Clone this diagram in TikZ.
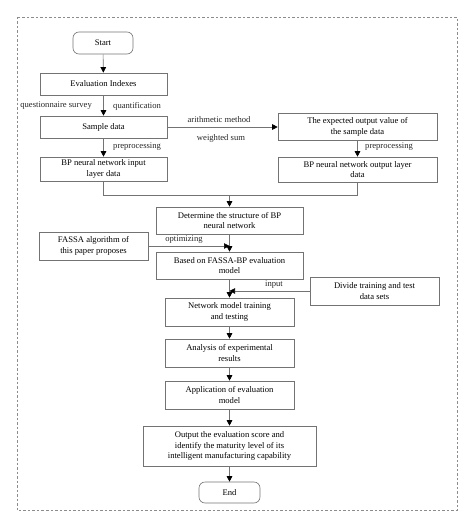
\documentclass[tikz,border=0pt]{standalone}
\usepackage{fontspec}
\setmainfont{Liberation Serif}
\usetikzlibrary{arrows.meta,positioning}
\begin{document}
\begin{tikzpicture}[x=1pt,y=-1pt,
  font=\fontsize{8.6}{10.5}\selectfont,
  box/.style={draw=black!55, line width=0.6pt, align=center, inner sep=1pt},
  term/.style={box, rounded corners=6pt},
  conn/.style={draw=black!55, line width=0.6pt, -{Triangle[length=5.5pt,width=5.5pt,color=black,fill=black]}},
  plain/.style={draw=black!55, line width=0.6pt},
  lbl/.style={inner sep=1pt, text=black!85}
]
\useasboundingbox (0,0) rectangle (474,527);
\draw[black!45, line width=0.6pt, dash pattern=on 2.5pt off 2pt] (17,17) rectangle (457,510);

\node[term, minimum width=60pt, minimum height=22pt] (start) at (103,43) {Start};
\node[box, minimum width=127pt, minimum height=22pt] (eval) at (103.5,84) {Evaluation Indexes};
\node[box, minimum width=127pt, minimum height=22pt] (sample) at (103.5,127) {Sample data};
\node[box, minimum width=127pt, minimum height=24pt] (bpin) at (103.5,169) {BP neural network input\\layer data};
\node[box, minimum width=159pt, minimum height=27pt] (expect) at (357.5,127) {The expected output value of\\the sample data};
\node[box, minimum width=159pt, minimum height=25pt] (bpout) at (357.5,169.5) {BP neural network output layer\\data};
\node[box, minimum width=147pt, minimum height=27pt] (determine) at (229.5,220.5) {Determine the structure of BP\\neural network};
\node[box, minimum width=109pt, minimum height=28pt] (fassa) at (93.5,246) {FASSA algorithm of\\this paper proposes};
\node[box, minimum width=147pt, minimum height=27pt] (based) at (229.5,265.5) {Based on FASSA-BP evaluation\\model};
\node[box, minimum width=129pt, minimum height=28pt] (divide) at (374.5,291) {Divide training and test\\data sets};
\node[box, minimum width=129pt, minimum height=28pt] (train) at (229.5,312) {Network model training\\and testing};
\node[box, minimum width=129pt, minimum height=28pt] (analysis) at (229.5,353) {Analysis of experimental\\results};
\node[box, minimum width=129pt, minimum height=28pt] (app) at (229.5,395) {Application of evaluation\\model};
\node[box, minimum width=173pt, minimum height=40pt] (output) at (229.5,446) {Output the evaluation score and\\identify the maturity level of its\\intelligent manufacturing capability};
\node[term, minimum width=61pt, minimum height=21pt] (end) at (229.5,492.5) {End};

\coordinate (j) at (229.5,195);

\draw[conn] (start) -- (eval);
\draw[conn] (eval) -- (sample);
\node[lbl, anchor=east] (l1) at (93,106) {questionnaire survey};
\node[lbl, anchor=west] (l2) at (112,106) {quantification};
\draw[conn] (sample) -- (bpin);
\node[lbl, anchor=west] (l3) at (112,146.5) {preprocessing};
\draw[conn] (sample) -- (expect);
\node[lbl] (l4) at (219,120) {arithmetic method};
\node[lbl] (l5) at (221,138.5) {weighted sum};
\draw[conn] (expect) -- (bpout);
\node[lbl, anchor=west] (l6) at (364,146.5) {preprocessing};
\draw[plain] (bpin.south) |- (j);
\draw[plain] (bpout.south) |- (j);
\draw[conn] (j) -- (determine.north);
\draw[conn] (determine) -- (based);
\draw[conn] (fassa.east) -- (fassa.east -| determine.south);
\node[lbl] (l7) at (184,240) {optimizing};
\draw[conn] (based) -- (train);
\draw[conn] (divide.west) -- (divide.west -| train.north);
\node[lbl] (l8) at (274,285) {input};
\draw[conn] (train) -- (analysis);
\draw[conn] (analysis) -- (app);
\draw[conn] (app) -- (output);
\draw[conn] (output) -- (end);
\end{tikzpicture}
\end{document}
